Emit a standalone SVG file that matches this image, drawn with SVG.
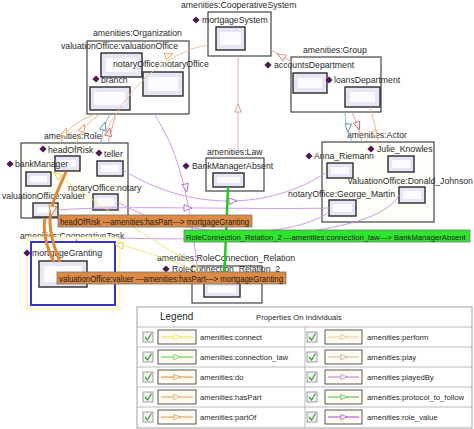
<svg xmlns="http://www.w3.org/2000/svg" xmlns:xlink="http://www.w3.org/1999/xlink" width="474" height="429" viewBox="0 0 474 429">
<style>
text{font-family:"Liberation Sans",Arial,sans-serif;fill:#2a2a2a}
.t{font-size:8.7px}
.lg{font-size:7.7px}
.el{font-size:8.2px;fill:#1a1a1a}
.ob{fill:#ffffff;stroke:#444;stroke-width:1.2}
.obt{fill:#fefef8;stroke:#444;stroke-width:1.2}
.ib{fill:#e6e6f6;stroke:#2a2a2a;stroke-width:1.4}
.iw{fill:#fbfbff;stroke:none}
.dia{fill:#4d1a4d}
.c{fill:none;stroke-width:0.9}
.cell{fill:none;stroke:#aaa;stroke-width:0.8}
.chk{fill:#f2f2f2;stroke:#888;stroke-width:0.8}
.tick{fill:none;stroke:#3a9a3a;stroke-width:1.2}
.smp{fill:#fffbf0;stroke:#444;stroke-width:0.9}
</style>
<defs>
<path id="dm" d="M0,-3.6 L3.6,0 L0,3.6 L-3.6,0Z"/>
<path id="tri" d="M-4,-3.3 L4,0 L-4,3.3Z" fill="#ffffff" stroke-width="0.9"/>
</defs>

<!-- nodes -->
<g id="cooperativeSystem">
<text class="t" x="181" y="8">amenities:CooperativeSystem</text>
<rect class="ob" x="208" y="12" width="63" height="44"/>
<use href="#dm" class="dia" x="196" y="20"/>
<text class="t" x="202" y="23">mortgageSystem</text>
<rect class="ib" x="216" y="27" width="29" height="23"/><rect class="iw" x="220" y="32" width="21" height="13"/>
</g>
<g id="organization">
<text class="t" x="93" y="36">amenities:Organization</text>
<rect class="ob" x="87" y="41" width="102" height="73"/>
<rect class="ib" x="101" y="53" width="41" height="24"/><rect class="iw" x="106" y="58" width="31" height="14"/>
<text class="t" x="61" y="49">valuationOffice:valuationOffice</text>
<rect class="ib" x="143" y="72" width="40" height="24"/><rect class="iw" x="148" y="77" width="30" height="14"/>
<text class="t" x="113" y="67">notaryOffice:notaryOffice</text>
<use href="#dm" class="dia" x="96" y="79"/>
<text class="t" x="101" y="83">branch</text>
<rect class="ib" x="90" y="87" width="40" height="23"/><rect class="iw" x="94" y="92" width="31" height="13"/>
</g>
<g id="group">
<text class="t" x="303" y="53">amenities:Group</text>
<rect class="ob" x="291" y="57" width="90" height="55"/>
<use href="#dm" class="dia" x="268" y="65"/>
<text class="t" x="274" y="68">accountsDepartment</text>
<rect class="ib" x="293" y="73" width="34" height="20"/><rect class="iw" x="298" y="78" width="24" height="10"/>
<use href="#dm" class="dia" x="329" y="80"/>
<text class="t" x="334" y="83">loansDepartment</text>
<rect class="ib" x="345" y="87" width="35" height="20"/><rect class="iw" x="350" y="92" width="25" height="10"/>
</g>
<g id="role">
<text class="t" x="44" y="139">amenities:Role</text>
<rect class="obt" x="21" y="143" width="107" height="75"/>
<use href="#dm" class="dia" x="43" y="149"/>
<text class="t" x="48" y="153">headOfRisk</text>
<rect class="ib" x="55" y="156" width="25" height="15"/><rect class="iw" x="59" y="160" width="17" height="7"/>
<use href="#dm" class="dia" x="99" y="153"/>
<text class="t" x="104" y="157">teller</text>
<rect class="ib" x="97" y="161" width="26" height="15"/><rect class="iw" x="101" y="165" width="18" height="7"/>
<use href="#dm" class="dia" x="10" y="164"/>
<text class="t" x="15" y="167">bankManager</text>
<rect class="ib" x="26" y="172" width="25" height="14"/><rect class="iw" x="30" y="176" width="17" height="6"/>
<text class="t" x="68" y="191">notaryOffice:notary</text>
<rect class="ib" x="93" y="194" width="25" height="16"/><rect class="iw" x="97" y="198" width="17" height="8"/>
<text class="t" x="2" y="199">valuationOffice:valuer</text>
<rect class="ib" x="33" y="203" width="25" height="14"/><rect class="iw" x="37" y="207" width="17" height="6"/>
</g>
<g id="law">
<text class="t" x="207" y="155">amenities:Law</text>
<rect class="ob" x="206" y="158" width="58" height="33"/>
<use href="#dm" class="dia" x="186" y="166"/>
<text class="t" x="192" y="169">BankManagerAbsent</text>
<rect class="ib" x="213" y="173" width="31" height="14"/><rect class="iw" x="217" y="177" width="23" height="6"/>
</g>
<g id="actor">
<text class="t" x="347" y="138">amenities:Actor</text>
<rect class="obt" x="322" y="142" width="112" height="80"/>
<use href="#dm" class="dia" x="371" y="149"/>
<text class="t" x="377" y="152">Julie_Knowles</text>
<rect class="ib" x="388" y="156" width="26" height="16"/><rect class="iw" x="392" y="160" width="18" height="8"/>
<use href="#dm" class="dia" x="309" y="156"/>
<text class="t" x="314" y="159">Anna_Riemann</text>
<rect class="ib" x="327" y="163" width="26" height="15"/><rect class="iw" x="331" y="167" width="18" height="7"/>
<text class="t" x="348" y="184">valuationOffice:Donald_Johnson</text>
<rect class="ib" x="399" y="187" width="26" height="16"/><rect class="iw" x="403" y="191" width="18" height="8"/>
<text class="t" x="288" y="197">notaryOffice:George_Martin</text>
<rect class="ib" x="329" y="200" width="27" height="16"/><rect class="iw" x="333" y="204" width="19" height="8"/>
</g>
<g id="cooperativeTask">
<text class="t" x="20" y="239">amenities:CooperativeTask</text>
<rect x="27" y="238" width="92" height="71" fill="none" stroke="#fff6d0" stroke-width="3"/>
<rect x="31" y="242" width="84" height="63" fill="#ffffff" stroke="#3434c8" stroke-width="2"/>
<use href="#dm" class="dia" x="27" y="253"/>
<text class="t" x="32" y="256">mortgageGranting</text>
<rect class="ib" x="39" y="261" width="48" height="26"/><rect class="iw" x="44" y="266" width="38" height="16"/>
</g>
<g id="roleConnectionRelation">
<text class="t" x="157" y="261">amenities:RoleConnection_Relation</text>
<rect class="ob" x="192" y="266" width="70" height="37"/>
<use href="#dm" class="dia" x="166" y="269"/>
<text class="t" x="172" y="272">RoleConnection_Relation_2</text>
<rect class="ib" x="204" y="282" width="36" height="15"/><rect class="iw" x="208" y="286" width="28" height="7"/>
</g>

<!-- connectors -->
<g id="connectors">
<path class="c" stroke="#e4a4a4" d="M238 56 L238 150"/>
<use href="#tri" stroke="#e09090" transform="translate(238,108) rotate(-90)"/>
<path class="c" stroke="#e49a9a" d="M292 62 L271 50"/>
<use href="#tri" stroke="#e08888" transform="translate(281,56) rotate(-150)"/>
<path class="c" stroke="#f0c090" d="M210 44 Q140 58 100 143"/>
<use href="#tri" stroke="#f0a868" transform="translate(169,55) rotate(-18)"/>
<path class="c" stroke="#f0b078" d="M60 143 Q68 124 95 114"/>
<use href="#tri" stroke="#f0a060" transform="translate(65,132) rotate(-70)"/>
<path class="c" stroke="#f0b078" d="M76 143 Q84 124 100 114"/>
<use href="#tri" stroke="#f0a060" transform="translate(83,128) rotate(-65)"/>
<path class="c" stroke="#80b0cc" d="M101 143 Q102 128 110 114"/>
<use href="#tri" stroke="#5090b0" transform="translate(104,126) rotate(-75)"/>
<path class="c" stroke="#e89090" d="M108 143 Q112 128 116 114"/>
<use href="#tri" stroke="#e06060" transform="translate(109,132) rotate(-80)"/>
<path class="c" stroke="#80b0cc" d="M345 112 Q345 126 352 142"/>
<use href="#tri" stroke="#5090b0" transform="translate(348,128) rotate(95)"/>
<path class="c" stroke="#e89090" d="M352 112 Q358 125 362 142"/>
<use href="#tri" stroke="#e06060" transform="translate(358,126) rotate(70)"/>
<path class="c" stroke="#f0b078" d="M370 107 Q375 124 378 142"/>
<use href="#tri" stroke="#f0a060" transform="translate(375,134) rotate(80) scale(0.8)"/>
<path class="c" stroke="#cc90e4" d="M154 114 C175 145 188 185 197 266"/>
<use href="#tri" stroke="#b060d0" transform="translate(186,188) rotate(78)"/>
<path class="c" stroke="#cc90e4" d="M123 170 C190 212 270 210 327 172"/>
<use href="#tri" stroke="#b060d0" transform="translate(233,201) rotate(-3)"/>
<path class="c" stroke="#cc90e4" d="M58 210 C120 205 250 210 329 208"/>
<use href="#tri" stroke="#b060d0" transform="translate(188,208) rotate(1)"/>
<path class="c" stroke="#cc90e4" d="M118 202 C180 240 290 240 329 212"/>
<path class="c" stroke="#cc90e4" d="M399 195 C380 232 260 242 118 238"/>
<path class="c" stroke="#f2e470" d="M53 172 C100 205 150 240 200 268"/>
<use href="#tri" stroke="#e8d040" transform="translate(57,175) rotate(-145)"/>
<path class="c" stroke="#f2e470" d="M115 244 C150 252 175 262 200 272"/>
<use href="#tri" stroke="#e8d040" transform="translate(119,245) rotate(190)"/>
<path fill="none" stroke="#e08838" stroke-width="3" d="M66 172 C58 190 50 205 50 222 C50 238 56 252 60 262"/>
<path fill="none" stroke="#e08838" stroke-width="3" d="M45 218 C42 235 48 250 54 262"/>
<use href="#tri" stroke="#e08838" stroke-width="1.2" transform="translate(52,211) rotate(100) scale(1.2)"/>
<path fill="none" stroke="#22cc22" stroke-width="2.5" d="M228 187 L224 282"/>
</g>

<!-- edge labels -->
<g id="edge-labels">
<rect x="58" y="215" width="194" height="12" fill="#de8a44" stroke="#777" stroke-width="0.8"/>
<text class="el" x="60" y="224.5" textLength="189" lengthAdjust="spacingAndGlyphs">headOfRisk ---amenities:hasPart---&gt; mortgageGranting</text>
<rect x="184" y="230" width="286" height="12" fill="#2ee62e" stroke="#777" stroke-width="0.8"/>
<text x="186" y="239.5" style="font-size:7.7px;fill:#1a1a1a">RoleConnection_Relation_2 ---amenities:connection_law---&gt; BankManagerAbsent</text>
<rect x="57" y="272" width="229" height="12" fill="#de8a44" stroke="#777" stroke-width="0.8"/>
<text class="el" x="59" y="281.5" textLength="224" lengthAdjust="spacingAndGlyphs">valuationOffice:valuer ---amenities:hasPart---&gt; mortgageGranting</text>
</g>

<!-- legend -->
<g id="legend">
<rect x="137" y="307" width="335" height="121" fill="#ffffff" stroke="#999" stroke-width="0.9"/>
<text x="160" y="320" style="font-size:10px">Legend</text>
<text class="lg" x="256" y="320">Properties On Individuals</text>
<line class="cell" x1="137" y1="327" x2="472" y2="327"/>
<line class="cell" x1="137" y1="347" x2="472" y2="347"/>
<line class="cell" x1="137" y1="367" x2="472" y2="367"/>
<line class="cell" x1="137" y1="387" x2="472" y2="387"/>
<line class="cell" x1="137" y1="407" x2="472" y2="407"/>
<line class="cell" x1="305" y1="327" x2="305" y2="428"/>

<g id="lg-connect"><rect class="chk" x="143" y="332" width="10" height="10"/><polyline class="tick" points="145,337 147.5,340 151.5,333.5"/><rect class="smp" x="158" y="330" width="38" height="14"/><line x1="161" y1="337" x2="193" y2="337" stroke="#f0e040"/><use href="#tri" stroke="#f0e040" transform="translate(177,337) scale(0.8)"/><text class="lg" x="200" y="340">amenities:connect</text></g>
<g id="lg-connection_law"><rect class="chk" x="143" y="352" width="10" height="10"/><polyline class="tick" points="145,357 147.5,360 151.5,353.5"/><rect class="smp" x="158" y="350" width="38" height="14"/><line x1="161" y1="357" x2="193" y2="357" stroke="#50d050"/><use href="#tri" stroke="#50d050" transform="translate(177,357) scale(0.8)"/><text class="lg" x="200" y="360">amenities:connection_law</text></g>
<g id="lg-do"><rect class="chk" x="143" y="372" width="10" height="10"/><polyline class="tick" points="145,377 147.5,380 151.5,373.5"/><rect class="smp" x="158" y="370" width="38" height="14"/><line x1="161" y1="377" x2="193" y2="377" stroke="#e08a3a"/><use href="#tri" stroke="#e08a3a" transform="translate(177,377) scale(0.8)"/><text class="lg" x="200" y="380">amenities:do</text></g>
<g id="lg-hasPart"><rect class="chk" x="143" y="392" width="10" height="10"/><polyline class="tick" points="145,397 147.5,400 151.5,393.5"/><rect class="smp" x="158" y="390" width="38" height="14"/><line x1="161" y1="397" x2="193" y2="397" stroke="#e0a060"/><use href="#tri" stroke="#e0a060" transform="translate(177,397) scale(0.8)"/><text class="lg" x="200" y="400">amenities:hasPart</text></g>
<g id="lg-partOf"><rect class="chk" x="143" y="412" width="10" height="10"/><polyline class="tick" points="145,417 147.5,420 151.5,413.5"/><rect class="smp" x="158" y="410" width="38" height="14"/><line x1="161" y1="417" x2="193" y2="417" stroke="#e09040"/><use href="#tri" stroke="#e09040" transform="translate(177,417) scale(0.8)"/><text class="lg" x="200" y="420">amenities:partOf</text></g>

<g id="lg-perform"><rect class="chk" x="307" y="332" width="10" height="10"/><polyline class="tick" points="309,337 311.5,340 315.5,333.5"/><rect class="smp" x="325" y="330" width="37" height="14"/><line x1="328" y1="337" x2="359" y2="337" stroke="#f0c890"/><use href="#tri" stroke="#e8b878" transform="translate(344,337) scale(0.8)"/><text class="lg" x="367" y="340">amenities:perform</text></g>
<g id="lg-play"><rect class="chk" x="307" y="352" width="10" height="10"/><polyline class="tick" points="309,357 311.5,360 315.5,353.5"/><rect class="smp" x="325" y="350" width="37" height="14"/><line x1="328" y1="357" x2="359" y2="357" stroke="#c8b8a0"/><use href="#tri" stroke="#b8a890" transform="translate(344,357) scale(0.8)"/><text class="lg" x="367" y="360">amenities:play</text></g>
<g id="lg-playedBy"><rect class="chk" x="307" y="372" width="10" height="10"/><polyline class="tick" points="309,377 311.5,380 315.5,373.5"/><rect class="smp" x="325" y="370" width="37" height="14"/><line x1="328" y1="377" x2="359" y2="377" stroke="#c070e0"/><use href="#tri" stroke="#c070e0" transform="translate(344,377) scale(0.8)"/><text class="lg" x="367" y="380">amenities:playedBy</text></g>
<g id="lg-protocol"><rect class="chk" x="307" y="392" width="10" height="10"/><polyline class="tick" points="309,397 311.5,400 315.5,393.5"/><rect class="smp" x="325" y="390" width="37" height="14"/><line x1="328" y1="397" x2="359" y2="397" stroke="#40c040"/><use href="#tri" stroke="#40c040" transform="translate(344,397) scale(0.8)"/><text class="lg" x="367" y="400">amenities:protocol_to_follow</text></g>
<g id="lg-role_value"><rect class="chk" x="307" y="412" width="10" height="10"/><polyline class="tick" points="309,417 311.5,420 315.5,413.5"/><rect class="smp" x="325" y="410" width="37" height="14"/><line x1="328" y1="417" x2="359" y2="417" stroke="#b040d0"/><use href="#tri" stroke="#b040d0" transform="translate(344,417) scale(0.8)"/><text class="lg" x="367" y="420">amenities:role_value</text></g>
</g>
</svg>
